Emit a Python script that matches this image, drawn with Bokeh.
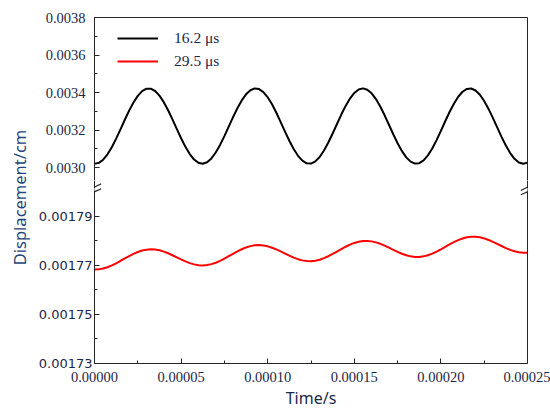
import math
from bokeh.plotting import figure
from bokeh.models import (Range1d, LinearAxis, FixedTicker, PrintfTickFormatter,
                          Legend, LegendItem, Arrow)
from bokeh.layouts import row, column
from bokeh.core.properties import value
from bokeh.embed import file_html
from bokeh.resources import INLINE

# ---------------- data ----------------
time_us = [
    0.0, 2.5, 5.0, 7.5, 10.0, 12.5, 15.0, 17.5, 20.0, 22.5,
    25.0, 27.5, 30.0, 32.5, 35.0, 37.5, 40.0, 42.5, 45.0, 47.5,
    50.0, 52.5, 55.0, 57.5, 60.0, 62.5, 65.0, 67.5, 70.0, 72.5,
    75.0, 77.5, 80.0, 82.5, 85.0, 87.5, 90.0, 92.5, 95.0, 97.5,
    100.0, 102.5, 105.0, 107.5, 110.0, 112.5, 115.0, 117.5, 120.0, 122.5,
    125.0, 127.5, 130.0, 132.5, 135.0, 137.5, 140.0, 142.5, 145.0, 147.5,
    150.0, 152.5, 155.0, 157.5, 160.0, 162.5, 165.0, 167.5, 170.0, 172.5,
    175.0, 177.5, 180.0, 182.5, 185.0, 187.5, 190.0, 192.5, 195.0, 197.5,
    200.0, 202.5, 205.0, 207.5, 210.0, 212.5, 215.0, 217.5, 220.0, 222.5,
    225.0, 227.5, 230.0, 232.5, 235.0, 237.5, 240.0, 242.5, 245.0, 247.5,
    250.0,
]
time_s = [t * 1e-6 for t in time_us]

disp_16_2us = [
    0.0030202, 0.0030246, 0.0030416, 0.0030701, 0.0031084, 0.0031538, 0.0032037, 0.0032546, 0.0033033, 0.0033468,
    0.0033822, 0.0034072, 0.0034203, 0.0034205, 0.0034080, 0.0033834, 0.0033484, 0.0033052, 0.0032566, 0.0032057,
    0.0031558, 0.0031101, 0.0030715, 0.0030425, 0.0030250, 0.0030201, 0.0030281, 0.0030485, 0.0030799, 0.0031205,
    0.0031675, 0.0032180, 0.0032686, 0.0033161, 0.0033576, 0.0033903, 0.0034121, 0.0034216, 0.0034183, 0.0034022,
    0.0033745, 0.0033370, 0.0032920, 0.0032424, 0.0031915, 0.0031424, 0.0030985, 0.0030623, 0.0030364, 0.0030223,
    0.0030210, 0.0030326, 0.0030563, 0.0030905, 0.0031331, 0.0031814, 0.0032322, 0.0032824, 0.0033285, 0.0033678,
    0.0033976, 0.0034160, 0.0034220, 0.0034150, 0.0033956, 0.0033649, 0.0033250, 0.0032784, 0.0032282, 0.0031774,
    0.0031295, 0.0030874, 0.0030540, 0.0030312, 0.0030207, 0.0030230, 0.0030380, 0.0030648, 0.0031017, 0.0031462,
    0.0031955, 0.0032465, 0.0032958, 0.0033403, 0.0033772, 0.0034040, 0.0034190, 0.0034213, 0.0034108, 0.0033880,
    0.0033546, 0.0033125, 0.0032646, 0.0032138, 0.0031636, 0.0031170, 0.0030770, 0.0030464, 0.0030270, 0.0030200,
    0.0030260,
]

disp_29_5us = [
    0.001768249, 0.001768342, 0.001768668, 0.001769210, 0.001769941, 0.001770816, 0.001771784, 0.001772787, 0.001773767, 0.001774665,
    0.001775426, 0.001776011, 0.001776382, 0.001776522, 0.001776426, 0.001776105, 0.001775584, 0.001774899, 0.001774100, 0.001773242,
    0.001772383, 0.001771583, 0.001770899, 0.001770377, 0.001770056, 0.001769960, 0.001770100, 0.001770471, 0.001771055, 0.001771818,
    0.001772714, 0.001773694, 0.001774698, 0.001775666, 0.001776541, 0.001777271, 0.001777814, 0.001778140, 0.001778233, 0.001778091,
    0.001777727, 0.001777168, 0.001776458, 0.001775642, 0.001774779, 0.001773928, 0.001773148, 0.001772494, 0.001772007, 0.001771729,
    0.001771680, 0.001771867, 0.001772283, 0.001772905, 0.001773698, 0.001774617, 0.001775606, 0.001776607, 0.001777561, 0.001778409,
    0.001779107, 0.001779609, 0.001779889, 0.001779934, 0.001779746, 0.001779341, 0.001778749, 0.001778013, 0.001777183, 0.001776318,
    0.001775476, 0.001774716, 0.001774092, 0.001773646, 0.001773412, 0.001773410, 0.001773644, 0.001774103, 0.001774762, 0.001775584,
    0.001776522, 0.001777518, 0.001778514, 0.001779452, 0.001780274, 0.001780934, 0.001781394, 0.001781628, 0.001781627, 0.001781393,
    0.001780947, 0.001780324, 0.001779564, 0.001778722, 0.001777857, 0.001777027, 0.001776290, 0.001775697, 0.001775292, 0.001775104,
    0.001775149,
]

series_labels = ["16.2 \u03bcs", "29.5 \u03bcs"]

x_ticks = [0.0, 0.00005, 0.00010, 0.00015, 0.00020, 0.00025]
x_minor_ticks = [0.000025, 0.000075, 0.000125, 0.000175, 0.000225]
upper_ticks = [0.0030, 0.0032, 0.0034, 0.0036, 0.0038]
upper_minor_ticks = [0.0031, 0.0033, 0.0035, 0.0037]
lower_ticks = [0.00173, 0.00175, 0.00177, 0.00179]
lower_minor_ticks = [0.00174, 0.00176, 0.00178]

x_label = "Time/s"
y_label = "Displacement/cm"

# ---------------- styles / layout ----------------
BLACK = "#000000"
RED = "#ff0000"
AXIS_COLOR = "#262626"
TICK_TEXT = "#1d2747"
YLABEL_COLOR = "#24447a"
XLABEL_COLOR = "#1d2747"

LABEL_W = 34
MAIN_W = 516
TOTAL_H = 418
TOP_H = 180
LOW_H = TOTAL_H - TOP_H
B_LEFT, B_RIGHT = 60, 23
TOP_B_TOP = 17
LOW_B_BOTTOM = 55
FRAME_W = MAIN_W - B_LEFT - B_RIGHT
TOP_FRAME_H = TOP_H - TOP_B_TOP
LOW_FRAME_H = LOW_H - LOW_B_BOTTOM

EPS_X = 1e-10
X0, X1 = 0.0, 0.00025
UP_TOP = 0.0038
UP_BOTTOM = UP_TOP - TOP_FRAME_H / 187500.0
LOW_BOTTOM = 0.00173
LOW_TOP = LOW_BOTTOM + LOW_FRAME_H / 2455000.0

x_range = Range1d(X0 - EPS_X, X1 + EPS_X)


def bare_axis(axis):
    axis.ticker = FixedTicker(ticks=[])
    axis.major_label_text_font_size = "0px"
    axis.major_tick_in = 0
    axis.major_tick_out = 0
    axis.minor_tick_in = 0
    axis.minor_tick_out = 0
    axis.major_label_standoff = 0
    axis.axis_line_color = AXIS_COLOR
    axis.axis_line_width = 1


def style_ticks(axis, font, size, standoff):
    axis.axis_line_color = AXIS_COLOR
    axis.axis_line_width = 1
    axis.major_tick_line_color = AXIS_COLOR
    axis.minor_tick_line_color = AXIS_COLOR
    axis.major_tick_in = 5
    axis.major_tick_out = 0
    axis.minor_tick_in = 3
    axis.minor_tick_out = 0
    axis.major_label_text_font = font
    axis.major_label_text_font_size = size
    axis.major_label_text_color = TICK_TEXT
    axis.major_label_standoff = standoff


def base_fig(h, y_rng, xloc, **borders):
    p = figure(width=MAIN_W, height=h, x_range=x_range, y_range=y_rng,
               x_axis_location=xloc, y_axis_location="left",
               toolbar_location=None, output_backend="svg",
               min_border_left=B_LEFT, min_border_right=B_RIGHT, **borders)
    p.xgrid.visible = False
    p.ygrid.visible = False
    p.outline_line_color = None
    p.background_fill_color = "white"
    p.border_fill_color = "white"
    return p


# ---------------- upper panel ----------------
top = base_fig(TOP_H, Range1d(UP_BOTTOM, UP_TOP + 1e-10), "above",
               min_border_top=TOP_B_TOP, min_border_bottom=0)
bare_axis(top.xaxis[0])
ya = top.yaxis[0]
ya.ticker = FixedTicker(ticks=upper_ticks, minor_ticks=upper_minor_ticks)
ya.formatter = PrintfTickFormatter(format="%.4f")
style_ticks(ya, "Liberation Serif", "14.5px", 9)
r_axis = LinearAxis()
bare_axis(r_axis)
top.add_layout(r_axis, "right")

black_r = top.line(time_s, disp_16_2us, line_color=BLACK, line_width=2, line_join="round")
# the red series also lives in the upper panel (outside its range, so clipped) to feed the legend
red_legend_r = top.line(time_s, disp_29_5us, line_color=RED, line_width=2)

legend = Legend(items=[LegendItem(label=series_labels[0], renderers=[black_r]),
                       LegendItem(label=series_labels[1], renderers=[red_legend_r])],
                location=(23, TOP_FRAME_H - 53.8), padding=0, margin=0, spacing=3,
                glyph_width=41, glyph_height=20, label_height=20, label_standoff=16,
                label_text_font="Liberation Serif", label_text_font_size="15.5px",
                label_text_color=TICK_TEXT, border_line_color=None,
                background_fill_alpha=0)
top.add_layout(legend)

# ---------------- lower panel ----------------
low = base_fig(LOW_H, Range1d(LOW_BOTTOM, LOW_TOP), "below",
               min_border_top=0, min_border_bottom=LOW_B_BOTTOM)
xa = low.xaxis[0]
xa.ticker = FixedTicker(ticks=x_ticks, minor_ticks=x_minor_ticks)
xa.formatter = PrintfTickFormatter(format="%.5f")
style_ticks(xa, "Liberation Serif", "14.5px", 8)
xa.axis_label = x_label
xa.axis_label_text_font = "Noto Sans"
xa.axis_label_text_font_size = "16px"
xa.axis_label_text_font_style = "normal"
xa.axis_label_text_color = XLABEL_COLOR
xa.axis_label_standoff = 2

yb = low.yaxis[0]
yb.ticker = FixedTicker(ticks=lower_ticks, minor_ticks=lower_minor_ticks)
yb.formatter = PrintfTickFormatter(format="%.5f")
style_ticks(yb, "DejaVu Sans", "13px", 2)
r_axis2 = LinearAxis()
bare_axis(r_axis2)
low.add_layout(r_axis2, "right")

low.line(time_s, disp_29_5us, line_color=RED, line_width=2, line_join="round")

# axis-break marks (pixel offsets converted to data units of the lower panel)
PX_X = (X1 - X0) / FRAME_W
PX_Y = (LOW_TOP - LOW_BOTTOM) / LOW_FRAME_H


def ypx(d):
    return LOW_TOP - d * PX_Y


for xa_pos in (X0, X1):
    low.add_layout(Arrow(start=None, end=None, x_start=xa_pos, y_start=ypx(7.4),
                         x_end=xa_pos, y_end=ypx(10.6), line_color="white", line_width=3))
    for (dx0, dy0, dx1, dy1) in [(-6.7, 10.0, 6.7, 3.3), (-6.7, 14.3, 6.7, 8.3)]:
        low.add_layout(Arrow(start=None, end=None,
                             x_start=xa_pos + dx0 * PX_X, y_start=ypx(dy0),
                             x_end=xa_pos + dx1 * PX_X, y_end=ypx(dy1),
                             line_color=AXIS_COLOR, line_width=1.2))

# ---------------- shared y-axis title ----------------
lab = figure(width=LABEL_W, height=TOTAL_H, x_range=Range1d(0, 1), y_range=Range1d(0, 1),
             toolbar_location=None, output_backend="svg", min_border=0)
lab.axis.visible = False
lab.xgrid.visible = False
lab.ygrid.visible = False
lab.outline_line_color = None
lab.text(x=[0.56], y=[0.5287], text=[y_label], angle=math.pi / 2,
         text_font=value("Noto Sans"), text_font_size="16.5px",
         text_color=YLABEL_COLOR, text_align="center", text_baseline="middle")

layout = row(lab, column(top, low))
open("out.html", "w").write(file_html(layout, INLINE))
